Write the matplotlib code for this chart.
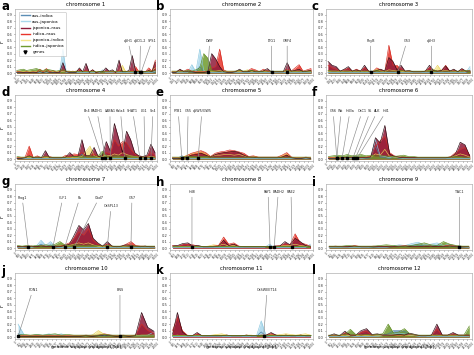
import numpy as np
import matplotlib
matplotlib.use('Agg')
import matplotlib.pyplot as plt
from matplotlib.lines import Line2D

# ---------------- data ----------------
chrom_titles = ["chromosome %d" % i for i in range(1, 13)]
panel_letters = list("abcdefghijkl")
pair_labels = ["aus–indica", "aus–japonica", "japonica–raus",
               "indica–raus", "japonica–indica", "indica–japonica"]

# F values (x100) per 1-Mb window, one list per chromosome
aus_indica = [
    [1,1,1,1,1,1,1,1,1,1,2,1,1,1,3,1,1,1,1,1,1,1,1,1,1,1,2,1,1,1,1,1,1,1,1,1,1,1,1,1,1,1,1],
    [1,1,1,1,2,1,1,10,2,1,1,1,1,1,1,1,1,1,1,1,1,1,1,1,1,1,1,1,1,1,1,1,1,1,1,1],
    [1,1,1,1,1,1,1,1,1,1,1,1,1,1,1,1,1,1,1,1,1,1,1,1,1,1,1,1,1,1,1,1,1,1,1,3],
    [1,1,1,1,1,1,1,1,1,1,1,1,1,1,1,1,8,1,1,1,1,1,1,1,1,1,1,1,1,1,1,1,1,1,1],
    [1,1,5,2,1,1,1,1,1,1,1,1,1,1,1,1,1,1,1,1,1,1,1,1,1,1,1,1,1,1],
    [1,1,1,1,1,1,1,1,1,2,20,3,2,1,3,1,1,1,1,1,1,1,1,1,1,1,1,1,1,1,1],
    [1,1,1,1,2,6,2,5,1,1,1,1,1,1,1,1,1,1,1,1,1,1,1,1,1,1,1,1,1,1],
    [1,1,1,1,1,1,1,1,1,1,1,1,1,1,1,1,1,1,1,3,1,1,1,1,1,1,1,3],
    [1,1,1,1,1,1,1,1,1,1,2,3,2,4,5,3,3,4,2,3,2,1,1],
    [5,2,2,3,2,3,2,3,2,2,2,2,2,2,2,2,2,2,2,2,2,2,3],
    [1,1,1,1,1,1,1,1,1,1,1,1,1,1,1,1,1,1,8,1,1,1,1,1,1,1,1,1,1],
    [1,1,1,1,2,1,1,1,1,2,3,5,10,10,9,4,2,1,1,1,1,1,1,1,1,1,2],
]
aus_japonica = [
    [1,1,1,1,1,1,1,1,1,1,1,1,1,1,37,1,1,1,1,1,1,1,1,1,1,1,5,1,1,1,1,1,1,1,1,1,1,1,2,1,1,1,3],
    [1,1,1,1,1,13,2,37,4,1,1,1,1,1,1,1,1,1,1,1,1,1,1,1,1,1,1,1,1,1,1,1,1,1,1,1],
    [1,1,1,1,1,1,1,1,1,1,1,1,1,1,1,1,1,1,1,1,1,1,1,1,1,1,1,1,1,1,1,1,1,1,1,10],
    [2,1,1,1,1,1,1,1,1,1,1,1,1,1,1,1,1,1,1,1,1,1,1,1,1,1,1,1,1,1,1,1,1,1,1],
    [1,1,4,2,1,1,1,1,1,1,1,1,1,1,1,1,1,1,1,1,1,1,1,1,1,1,1,1,1,1],
    [1,1,1,1,1,1,1,1,2,3,30,5,4,2,5,2,1,1,1,1,1,1,1,1,1,1,1,1,1,1,1],
    [1,1,2,1,3,12,4,10,2,1,1,1,1,1,1,1,1,1,1,1,1,1,1,1,1,1,1,1,1,1],
    [1,1,1,1,1,1,1,1,1,1,1,1,1,1,1,1,1,1,1,6,1,1,1,1,1,1,1,6],
    [1,1,1,1,1,1,1,2,1,1,3,5,4,7,9,5,6,8,4,6,3,2,1],
    [20,3,2,4,3,5,3,5,2,2,2,2,3,2,2,3,2,2,2,2,2,3,8],
    [1,1,1,1,1,1,1,1,1,1,1,1,1,1,1,1,1,1,25,2,1,1,1,1,1,1,1,1,1],
    [1,1,1,1,2,1,1,1,1,1,2,3,5,6,5,3,2,1,1,1,1,1,1,1,1,1,1],
]
japonica_raus = [
    [1,1,1,1,1,1,1,2,1,2,1,1,1,1,16,2,1,1,1,8,2,15,1,5,1,2,2,8,3,5,1,20,2,2,4,27,3,2,3,2,4,2,17],
    [1,1,6,2,2,2,1,1,1,2,30,22,10,2,1,1,2,6,2,2,4,2,2,3,7,2,2,2,2,16,3,4,6,2,3,4],
    [18,12,10,3,6,10,3,5,3,12,3,2,4,6,3,24,18,5,12,3,4,2,2,2,3,12,4,3,4,11,3,6,2,7,3,3],
    [1,1,2,5,2,3,2,13,2,2,2,2,3,10,4,4,30,5,6,18,4,5,27,12,55,33,10,43,30,10,5,4,6,23,10],
    [1,1,1,3,6,7,9,6,3,7,9,10,11,12,10,6,3,3,2,2,2,2,2,3,6,2,1,1,2,1],
    [1,1,1,2,2,2,2,2,2,3,33,25,52,8,4,3,2,2,2,2,2,2,2,2,2,2,3,8,26,22,5],
    [2,2,2,3,2,3,2,2,3,2,4,6,20,35,28,38,15,8,3,10,3,2,3,5,4,3,2,3,2,2],
    [3,4,7,8,3,4,2,2,2,3,12,4,6,2,2,2,2,2,2,2,3,3,10,5,15,10,4,2],
    [2,2,2,2,3,2,2,2,2,2,2,2,3,2,2,2,3,2,2,3,2,2,2],
    [1,1,1,1,1,1,1,1,1,1,1,2,1,2,3,2,1,2,1,2,38,15,9],
    [4,38,8,2,2,7,2,2,2,2,2,3,2,2,2,3,2,2,2,3,7,3,2,3,2,2,3,2,2],
    [2,5,2,9,3,3,10,13,4,5,3,3,3,4,3,6,4,2,2,3,20,3,3,7,3,3,3],
]
indica_raus = [
    [2,2,1,2,1,2,1,6,2,7,2,4,1,2,5,2,2,3,2,6,2,4,2,5,1,2,3,2,2,2,1,4,2,3,2,4,10,2,3,2,8,3,20],
    [2,2,5,3,6,3,2,2,2,3,8,10,37,5,2,2,3,4,2,3,7,5,2,6,3,2,2,2,2,6,3,8,13,3,5,7],
    [12,8,6,3,5,7,3,6,3,8,3,2,8,5,3,43,12,12,6,3,3,2,2,2,3,8,4,3,4,12,3,5,2,6,3,4],
    [2,2,3,20,2,5,2,4,4,2,2,2,6,4,8,7,10,4,5,8,4,5,10,8,30,20,27,25,15,8,5,3,4,10,5],
    [2,2,2,5,9,11,13,10,4,9,11,12,14,13,11,9,4,5,3,3,3,3,3,6,10,3,2,2,3,2],
    [2,2,2,2,2,3,2,2,3,4,20,28,35,10,5,3,3,2,2,2,2,2,2,2,2,2,4,10,15,18,6],
    [2,2,3,3,2,4,3,2,3,3,5,8,15,25,20,30,12,6,3,6,3,2,3,6,10,4,3,3,2,2],
    [4,3,5,6,5,3,2,2,3,4,17,6,8,3,2,2,2,2,2,2,3,4,6,5,22,8,6,3],
    [2,3,2,2,4,2,2,3,2,2,2,3,4,2,2,3,3,2,3,5,3,2,2],
    [2,2,2,2,2,2,2,2,2,2,2,3,2,3,5,3,2,3,2,3,20,10,6],
    [10,30,10,3,2,5,2,2,2,2,2,3,2,2,2,3,2,2,3,3,5,3,2,3,2,2,3,2,2],
    [2,3,2,6,3,3,7,9,3,4,3,3,3,3,3,4,3,2,2,3,12,3,3,5,3,3,3],
]
japonica_indica = [
    [2,2,2,3,2,2,2,3,2,2,2,2,2,3,2,2,2,2,3,2,2,3,2,2,2,2,2,2,2,3,2,2,12,2,2,3,2,4,2,2,3,4,8],
    [2,2,2,2,2,2,2,2,2,2,3,3,4,2,2,2,2,2,3,5,3,2,2,2,3,2,2,2,2,3,2,2,3,2,2,2],
    [3,3,3,2,3,3,2,3,2,3,2,2,6,3,2,5,4,3,3,2,2,2,2,2,3,4,3,12,3,4,3,3,2,3,3,3],
    [2,2,2,3,2,3,2,3,2,2,2,2,3,2,3,3,4,12,20,5,3,4,6,5,8,6,10,7,5,4,3,2,3,4,3],
    [2,2,2,6,8,10,11,8,4,6,6,7,7,6,7,5,3,4,3,2,2,2,2,5,8,2,2,2,2,2],
    [2,2,2,2,2,2,2,2,3,3,8,6,15,4,3,3,2,2,2,2,2,2,2,2,2,2,3,5,8,6,3],
    [2,2,2,2,2,3,2,2,2,3,3,4,6,8,6,8,5,3,2,4,2,2,2,3,4,3,2,2,2,2],
    [2,2,2,3,2,2,2,3,5,4,6,3,4,2,2,2,2,2,2,2,2,3,4,4,6,4,3,2],
    [2,2,2,2,2,2,2,2,2,3,2,2,2,2,2,2,3,2,2,3,2,2,2],
    [2,2,2,2,2,2,2,2,2,2,2,2,3,10,4,2,2,2,2,2,3,3,3],
    [2,3,2,2,2,3,2,2,3,4,5,3,2,2,2,3,3,2,3,3,4,3,4,5,4,3,4,5,3],
    [2,2,2,3,2,2,3,2,2,2,2,3,3,3,2,2,2,2,2,2,3,2,2,2,2,2,3],
]
indica_japonica = [
    [4,5,6,4,5,6,7,5,4,6,5,4,3,4,5,3,3,2,3,2,3,2,2,3,2,2,3,2,2,3,2,2,3,2,3,2,2,3,2,2,3,3,4],
    [3,3,3,3,4,3,5,8,30,23,4,3,3,3,3,3,3,4,3,3,4,3,3,3,3,3,3,3,3,4,3,3,3,3,3,3],
    [4,3,3,3,3,3,3,3,3,3,3,3,4,3,3,3,3,3,4,3,3,3,3,3,3,4,5,3,3,3,3,3,3,3,4,3],
    [4,3,3,4,3,3,3,4,3,3,3,3,3,3,4,4,5,4,5,4,5,12,5,4,5,5,4,5,5,4,3,3,3,3,3],
    [3,3,3,4,4,4,4,4,3,3,3,3,3,3,3,3,3,3,3,3,3,3,3,3,3,3,3,3,3,3],
    [4,5,6,5,7,5,6,7,5,6,5,5,5,4,4,5,6,4,4,3,3,3,3,3,3,3,3,4,4,3,3],
    [4,3,4,3,4,4,5,4,6,10,5,4,5,5,4,5,4,4,3,4,3,3,3,3,3,3,3,3,3,3],
    [3,3,3,3,3,3,3,3,3,3,3,3,3,3,3,3,3,3,3,3,3,3,3,3,3,3,3,3],
    [3,3,3,4,3,3,3,3,4,5,4,3,3,4,6,8,5,4,10,6,4,3,3],
    [3,4,3,4,3,4,5,3,4,3,3,3,3,3,4,3,3,3,3,3,3,3,3],
    [3,3,3,3,3,3,3,3,3,3,3,3,3,3,3,3,3,3,3,3,3,3,3,3,3,3,3,3,3],
    [3,3,3,4,12,4,3,4,3,4,5,20,6,8,13,5,3,3,3,3,3,3,3,3,3,3,17],
]

# genes: names and positions (Mb)
gene_names = [
    ["qSH1", "qSD1-2", "SPS1"],
    ["DWF", "LTG1", "GRF4"],
    ["PhyB", "GS3", "qSH3"],
    ["Bh4", "BADH1", "LABA1", "Kala4", "SHAT1", "LG1", "Sh4"],
    ["PTB1", "GS5", "qSW5/GW5"],
    ["GS6", "Wx", "Hd3a", "OsC1", "S5", "ALK", "Hd1"],
    ["Prog1", "CLF1", "Rc", "Ghd7", "OsSPL13", "GS7"],
    ["Hd8", "PAY1", "BADH2", "RAE2"],
    ["TAC1"],
    ["PON1", "BNS"],
    ["OsSWEET14"],
    [],
]
gene_pos_mb = [
    [36.3, 37.8, 38.2],
    [9.5, 25.6, 29.5],
    [11.0, 17.7, 26.0],
    [21.5, 22.3, 23.5, 27.0, 30.8, 32.0, 33.5],
    [2.5, 3.6, 5.9],
    [2.3, 2.3, 3.4, 4.5, 5.7, 6.2, 6.6],
    [2.8, 8.0, 10.5, 12.5, 19.5, 24.5],
    [4.3, 19.6, 20.4, 23.9],
    [21.0],
    [0.5, 17.0],
    [19.0],
    [],
]

# ---------------- layout ----------------
label_x_mb = [
    [34.2, 38.0, 41.5],
    [10.0, 25.6, 29.5],
    [11.0, 20.0, 26.0],
    [17.7, 20.2, 23.4, 26.0, 29.0, 31.8, 34.0],
    [1.7, 3.8, 6.7],
    [1.5, 3.2, 5.1, 7.7, 9.4, 10.9, 12.8],
    [1.5, 10.1, 13.7, 17.8, 20.3, 24.7],
    [4.3, 19.2, 21.2, 23.7],
    [21.0],
    [2.9, 17.0],
    [19.7],
    [],
]
label_y = [
    [0.47] * 3, [0.47] * 3, [0.47] * 3, [0.71] * 7, [0.71] * 3, [0.71] * 7,
    [0.75, 0.75, 0.75, 0.75, 0.62, 0.75], [0.84] * 4, [0.84], [0.70] * 2, [0.70], [],
]

colors = {
    "ai": "#5b8db5", "aj": "#a9d8ec", "jr": "#8e1b3a",
    "ir": "#e8352b", "ji": "#f3e58a", "ij": "#6e9a2d",
}
edge = {
    "ai": "#4a7aa0", "aj": "#8cc8e0", "jr": "#2a0a12",
    "ir": "#d42a20", "ji": "#e6cf55", "ij": "#5b8a1e",
}

W, H = 474, 355
fig = plt.figure(figsize=(W / 100, H / 100), dpi=100)
col_left = [15, 170, 326]
col_w = [142, 143, 146]
row_top = [9, 95, 184, 273]
ax_h = 66

series_order = [("ai", aus_indica), ("aj", aus_japonica), ("ji", japonica_indica),
                ("ir", indica_raus), ("jr", japonica_raus), ("ij", indica_japonica)]

for k in range(12):
    r, c = divmod(k, 3)
    ax = fig.add_axes([col_left[c] / W, 1 - (row_top[r] + ax_h) / H,
                       col_w[c] / W, ax_h / H])
    n = len(indica_japonica[k])
    for key, data in series_order:
        v = np.array(data[k], dtype=float) / 100.0
        x = (np.arange(len(v)) + 0.5) * 1000.0
        ax.fill_between(x, 0, v, color=colors[key], alpha=0.85, lw=0, zorder=2)
        ax.plot(x, v, color=edge[key], lw=0.45, zorder=3)
    # genes
    for name, pos, lx, ly in zip(gene_names[k], gene_pos_mb[k], label_x_mb[k], label_y[k]):
        ax.annotate(name, xy=(pos * 1000, 0.012), xytext=(lx * 1000, ly),
                    fontsize=2.4, ha='center', va='bottom', color='#222222',
                    arrowprops=dict(arrowstyle='-', color='#8a8a8a', lw=0.45,
                                    shrinkA=0.5, shrinkB=0), zorder=4)
        ax.plot([pos * 1000], [0.012], marker='s', ms=1.6, color='black', zorder=5)
    ax.set_xlim(0, n * 1000)
    ax.set_ylim(-0.03, 0.99)
    ax.set_yticks(np.arange(0, 0.91, 0.1))
    ax.set_yticklabels(["%.1f" % t for t in np.arange(0, 0.91, 0.1)], fontsize=2.6)
    ticks = np.linspace(0, n * 1000, 32)
    ax.set_xticks(ticks)
    ax.set_xticklabels(["%d" % int(round(t)) for t in ticks], fontsize=1.9,
                       rotation=45, ha='right', rotation_mode='anchor')
    ax.tick_params(length=1.0, width=0.4, pad=0.6, colors='#333333')
    for s in ax.spines.values():
        s.set_linewidth(0.5)
        s.set_color('#b0b0b0')
    ax.set_title(chrom_titles[k], fontsize=3.8, pad=2.0)
    if c == 0:
        ax.set_ylabel("F", fontsize=3.5, labelpad=1.5)
    if r == 3:
        ax.set_xlabel("genome window (midpoint) [kb]", fontsize=3.2)
        ax.xaxis.set_label_coords(0.5, -0.095)
    fig.text((col_left[c] - 14) / W, 1 - (row_top[r] - 2) / H, panel_letters[k],
             fontsize=8.5, fontweight='bold', ha='left', va='center')
    if k == 0:
        handles = [Line2D([0], [0], color=colors[kk], lw=1.0)
                   for kk in ["ai", "aj", "jr", "ir", "ji", "ij"]]
        handles.append(Line2D([0], [0], marker='v', color='black', lw=0, ms=2.2))
        leg = ax.legend(handles, pair_labels + ["genes"], loc='upper left',
                        fontsize=3.0, frameon=True, handlelength=2.2,
                        borderpad=0.5, labelspacing=0.5, handletextpad=0.6,
                        bbox_to_anchor=(0.01, 0.99))
        leg.get_frame().set_linewidth(0.4)
        leg.get_frame().set_edgecolor('#aaaaaa')

fig.savefig("out.png", dpi=100)
